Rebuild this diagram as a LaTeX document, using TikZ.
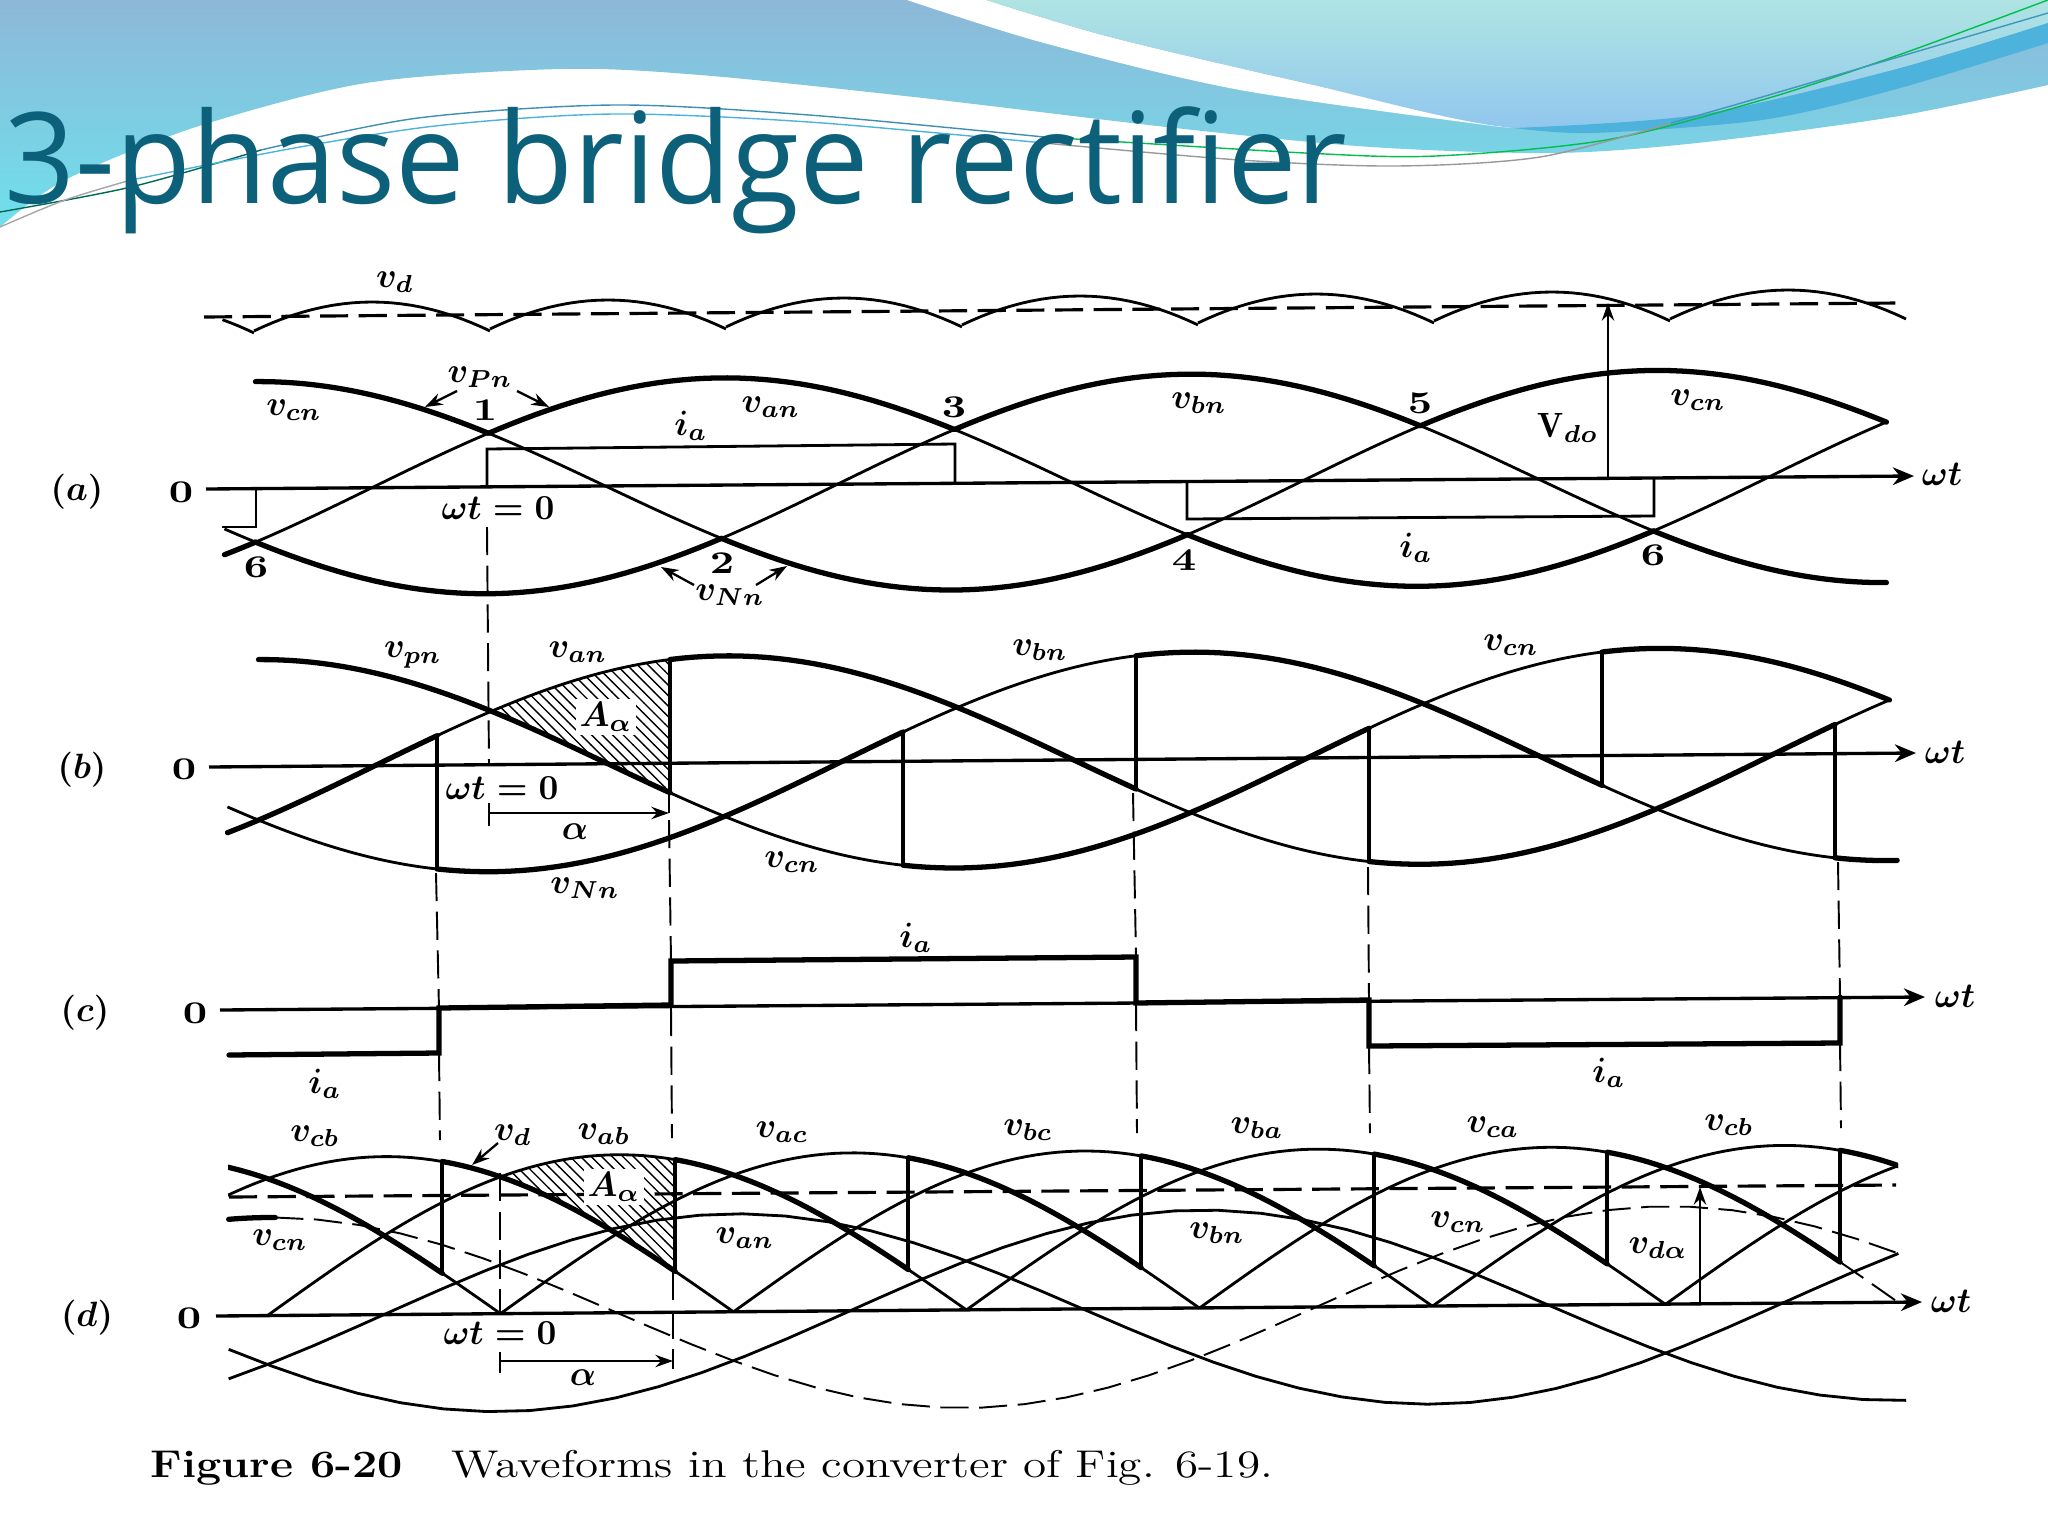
\documentclass[tikz,border=0pt]{standalone}
\usepackage{amsmath}
\usepackage{fontspec}
\usetikzlibrary{patterns,arrows.meta}
\newfontfamily\titlefont{Open Sans}
\definecolor{skytop}{HTML}{8DB8D8}
\definecolor{skylow}{HTML}{6FE0EC}
\definecolor{palet}{HTML}{AFE4E3}
\definecolor{palel}{HTML}{90C6EE}
\definecolor{swoosh}{HTML}{4DB3DC}
\definecolor{titleink}{HTML}{0C607A}
\tikzset{
  lab/.style={font=\fontsize{10}{11}\selectfont\boldmath,xscale=.98,inner sep=0pt},
  numlab/.style={font=\fontsize{9}{10}\selectfont\bfseries,xscale=1.3,inner sep=0pt},
  hvy/.style={line width=1.5pt,line cap=round},
  thn/.style={line width=.8pt},
  jmp/.style={line width=1.2pt},
  axis/.style={line width=.95pt,->,>={Stealth[length=6pt,width=5pt]}},
  guide/.style={line width=.55pt,dash pattern=on 8pt off 3pt},
  avg/.style={line width=.9pt,dash pattern=on 8pt off 3pt},
  pointer/.style={line width=.65pt,->,>={Stealth[length=5pt,width=3.5pt]}},
  hatch/.style={pattern=north west lines}
}
% one phase between two angles, one jump at a firing angle, one line-line arch
\newcommand{\wavepart}[4]{\draw[#1,domain=#3:#4,samples=40] plot ({wx(\x)},{wy(\x,#2)});}
\newcommand{\jump}[3]{\draw[jmp] ({wx(#1)},{wy(#1,#2)}) -- ({wx(#1)},{wy(#1,#3)});}
\newcommand{\archpart}[4]{\draw[#1,domain=#3:#4,samples=40] plot ({wx(\x)},{wl(\x,#2)});}
\begin{document}
\begin{tikzpicture}[x=0.01cm,y=-0.01cm,
    declare function={wx(\t)=\xz+3.883*\t;
      wy(\t,\p)=\yz-.008*(wx(\t)-206)-\amp*sin(\t+(\p));
      wl(\t,\z)=\yz-.008*(wx(\t)-206)-158*sin(\t-(\z));}]
  \useasboundingbox (0,0) rectangle (2048,1536);

  % slide header
  \shade[top color=skytop,bottom color=skylow] (0,0) -- (2048,0) -- plot[smooth] coordinates {(2048,85) (1893,117) (1697,143) (1554,153) (1371,147) (1175,128) (914,97) (700,75) (561,69) (366,83) (196,127) (65,180) (0,227)} -- cycle;
  \fill[white] plot[smooth] coordinates {(907,0) (1044,43) (1240,90) (1501,127)} -- plot[smooth] coordinates {(1514,128) (1305,83) (1110,37) (986,0)} -- cycle;
  \shade[top color=palet,bottom color=palel] (986,0) -- (2048,0) -- plot[smooth] coordinates {(2048,23) (1893,70) (1697,115) (1514,128) (1305,83) (1110,37) (986,0)} -- cycle;
  \fill[swoosh] plot[smooth] coordinates {(1514,128) (1697,115) (1893,70) (2048,23)} -- plot[smooth] coordinates {(2048,43) (1893,90) (1762,120) (1593,133) (1514,128)} -- cycle;
  \draw[thin,color=green!55!blue!75!black] plot[smooth] coordinates {(0,212) (131,187) (261,150)};
  \draw[thin,color=swoosh!80!black] plot[smooth] coordinates {(261,150) (418,118) (614,105) (809,115) (1044,137)};
  \draw[thin,color=green!60!cyan!75!black] plot[smooth] coordinates {(1044,137) (1305,153) (1436,156) (1606,140) (1762,100) (1893,57) (2048,0)};
  \draw[thin,color=gray!70] plot[smooth] coordinates {(0,227) (65,200) (131,180)};
  \draw[thin,color=swoosh] plot[smooth] coordinates {(131,180) (300,147) (444,125) (614,114) (809,122) (1044,143)};
  \draw[thin,color=gray!80] plot[smooth] coordinates {(1044,143) (1240,160) (1397,166) (1540,157) (1671,123)};
  \draw[thin,color=swoosh!85!black] plot[smooth] coordinates {(1671,123) (1762,97) (2048,13)};
  \node[anchor=base west,inner sep=0pt,xscale=.98,text=titleink,font=\titlefont\fontsize{36}{40}\selectfont] (title) at (4,203) {3-phase bridge rectifier};

  % ripple of v_d
  \foreach \k in {0,...,6}{
    \draw[thn,domain=-30:30,samples=25] plot ({372+236*\k+3.933*\x},{302-2*\k+216*(1-cos(\x))});
  }
  \draw[thn,domain=22:30,samples=5] plot ({136+3.933*\x},{304+216*(1-cos(\x))});
  \draw[avg] (204,317) -- (1899,303);
  \node[lab] (vdtop) at (395,282) {$v_d$};

  % (a)
  \def\xz{372}\def\yz{489}\def\amp{107}
  \foreach \ph/\from/\to/\pen in {0/-38/-30/hvy,0/-30/30/thn,0/30/150/hvy,0/150/210/thn,0/210/330/hvy,0/330/390/thn,
      -120/-38/-30/thn,-120/-30/90/hvy,-120/90/150/thn,-120/150/270/hvy,-120/270/330/thn,-120/330/390/hvy,
      120/-30/30/hvy,120/30/90/thn,120/90/210/hvy,120/210/270/thn,120/270/390/hvy}{
    \wavepart{\pen}{\ph}{\from}{\to}
  }
  \draw[axis] (206,489) -- (1914,476);
  \draw[thn] (222,527) -- (256,527) -- (256,489);
  \draw[thn] (487,487) -- (487,449) -- (955,444) -- (955,482);
  \draw[thn] (1187,482) -- (1187,519) -- (1654,516) -- (1654,478);
  \draw[guide] (487,527) -- (489,765);
  \coordinate (vdobase) at (1608,477);
  \coordinate (vdotop) at (1608,303);
  \draw[pointer] (vdobase) -- (vdotop);
  \coordinate (pnl) at (425,407);
  \coordinate (pnr) at (549,407);
  \coordinate (nnl) at (661,567);
  \coordinate (nnr) at (787,566);
  \node[lab] (vPn) at (480,377) {$v_{Pn}$};
  \node[lab] (vNn) at (730,595) {$v_{Nn}$};
  \draw[pointer] (457,391) -- (pnl);
  \draw[pointer] (517,391) -- (pnr);
  \draw[pointer] (694,585) -- (nnl);
  \draw[pointer] (756,585) -- (nnr);
  \node[lab] (alab) at (77,492) {$(a)$};
  \node[numlab] (azero) at (181,492) {0};
  \node[lab] (avcnl) at (294,410) {$v_{cn}$};
  \node[numlab] (cross1) at (485,410) {1};
  \node[lab] (aia) at (691,426) {$i_a$};
  \node[lab] (avan) at (771,407) {$v_{an}$};
  \node[numlab] (cross3) at (954,407) {3};
  \node[lab] (awt) at (498,508) {$\omega t=0$};
  \node[numlab] (cross6l) at (256,567) {6};
  \node[numlab] (cross2) at (722,563) {2};
  \node[lab] (avbn) at (1199,403) {$v_{bn}$};
  \node[numlab] (cross5) at (1420,403) {5};
  \node[lab] (vdo) at (1568,428) {$\mathrm{V}_{do}$};
  \node[lab] (avcnr) at (1698,400) {$v_{cn}$};
  \node[lab] (aomega) at (1942,474) {$\omega t$};
  \node[lab] (aian) at (1416,548) {$i_a$};
  \node[numlab] (cross4) at (1184,560) {4};
  \node[numlab] (cross6r) at (1653,555) {6};

  % (b)
  \def\xz{375}\def\yz{767}\def\amp{107}
  \fill[hatch] plot[domain=30:76,samples=30] ({wx(\x)},{wy(\x,0)}) -- plot[domain=76:30,samples=30] ({wx(\x)},{wy(\x,120)}) -- cycle;
  \foreach \ph/\from/\to/\pen in {0/-38/16/hvy,0/16/76/thn,0/76/196/hvy,0/196/256/thn,0/256/376/hvy,0/376/390/thn,
      -120/-38/16/thn,-120/16/136/hvy,-120/136/196/thn,-120/196/316/hvy,-120/316/376/thn,-120/376/392/hvy,
      120/-30/76/hvy,120/76/136/thn,120/136/256/hvy,120/256/316/thn,120/316/390/hvy}{
    \wavepart{\pen}{\ph}{\from}{\to}
  }
  \jump{16}{0}{-120}
  \jump{76}{120}{0}
  \jump{136}{-120}{120}
  \jump{196}{0}{-120}
  \jump{256}{120}{0}
  \jump{316}{-120}{120}
  \jump{376}{0}{-120}
  \draw[axis] (209,767) -- (1916,753);
  \draw[thn] (489,803) -- (489,826);
  \draw[thn] (669,795) -- (669,813);
  \coordinate (balpha) at (669,813);
  \draw[pointer] (489,813) -- (balpha);
  \foreach \xa/\ya/\xb/\yb in {436/873/439/1010,669/820/671/961,1133/793/1136/957,1368/867/1369/1000,1838/862/1840/997,
      439/1053/440/1140,671/1008/672/1138,1136/1003/1137/1133,1369/1046/1370/1133,1840/1043/1841/1128}{
    \draw[guide] (\xa,\ya) -- (\xb,\yb);
  }
  \node[lab,fill=white,inner sep=1pt] (bAa) at (606,717) {$A_\alpha$};
  \node[lab] (blab) at (82,770) {$(b)$};
  \node[numlab] (bzero) at (184,769) {0};
  \node[lab] (bvpn) at (413,655) {$v_{pn}$};
  \node[lab] (bvan) at (578,652) {$v_{an}$};
  \node[lab] (bwt) at (502,788) {$\omega t=0$};
  \node[lab] (balab) at (575,832) {$\alpha$};
  \node[lab] (bvNn) at (585,888) {$v_{Nn}$};
  \node[lab] (bvcnl) at (792,862) {$v_{cn}$};
  \node[lab] (bvbn) at (1040,650) {$v_{bn}$};
  \node[lab] (bvcnr) at (1511,645) {$v_{cn}$};
  \node[lab] (bomega) at (1945,752) {$\omega t$};

  % (c)
  \draw[axis] (220,1010) -- (1925,997);
  \draw[hvy,line join=miter] (229,1055) -- (439,1053) -- (439,1008) -- (671,1005) -- (671,961) -- (1136,957) -- (1136,1003) -- (1369,1000) -- (1369,1046) -- (1840,1043) -- (1840,997);
  \node[lab] (clab) at (85,1013) {$(c)$};
  \node[numlab] (czero) at (195,1013) {0};
  \node[lab] (cia) at (916,938) {$i_a$};
  \node[lab] (cial) at (325,1084) {$i_a$};
  \node[lab] (ciar) at (1609,1073) {$i_a$};
  \node[lab] (comega) at (1955,996) {$\omega t$};

  % (d)
  \def\xz{384}\def\yz{1316}\def\amp{98}
  \fill[hatch] plot[domain=30:75,samples=30] ({wx(\x)},{wl(\x,-30)}) -- plot[domain=75:30,samples=30] ({wx(\x)},{wl(\x,-90)}) -- cycle;
  \begin{scope}
    \clip (228,1100) rectangle (1898,1340);
    \foreach \z/\tailpen in {-150/thn,-90/thn,-30/thn,30/thn,90/thn,150/thn,210/guide,270/thn,330/thn}{
      \archpart{thn}{\z}{\z}{\z+105}
      \archpart{hvy}{\z}{\z+105}{\z+165}
      \archpart{\tailpen}{\z}{\z+165}{\z+180}
    }
  \end{scope}
  \foreach \f/\z in {15/-90,75/-30,135/30,195/90,255/150,315/210,375/270}{
    \draw[jmp] ({wx(\f)},{wl(\f,\z)}) -- ({wx(\f)},{wl(\f,\z-60)});
  }
  \wavepart{thn}{0}{-40}{390}
  \wavepart{thn}{-120}{-40}{392}
  \wavepart{guide}{120}{-28}{390}
  \wavepart{hvy}{120}{-40}{-28}
  \draw[axis] (216,1316) -- (1922,1302);
  \draw[avg] (229,1197) -- (1896,1185);
  \draw[guide] (500,1173) -- (500,1313);
  \draw[thn] (500,1352) -- (500,1373);
  \draw[guide] (673,1272) -- (673,1369);
  \coordinate (dalpha) at (673,1361);
  \draw[pointer] (500,1361) -- (dalpha);
  \coordinate (vdtip) at (472,1165);
  \draw[pointer] (498,1143) -- (vdtip);
  \coordinate (vdabase) at (1700,1303);
  \coordinate (vdatop) at (1700,1187);
  \draw[pointer] (vdabase) -- (vdatop);
  \node[lab,fill=white,inner sep=1pt] (dAa) at (614,1187) {$A_\alpha$};
  \node[lab] (dlab) at (87,1318) {$(d)$};
  \node[numlab] (dzero) at (189,1318) {0};
  \node[lab] (dvcbl) at (315,1136) {$v_{cb}$};
  \node[lab] (dvd) at (513,1135) {$v_d$};
  \node[lab] (dvab) at (604,1134) {$v_{ab}$};
  \node[lab] (dvac) at (782,1132) {$v_{ac}$};
  \node[lab] (dvbc) at (1028,1130) {$v_{bc}$};
  \node[lab] (dvba) at (1257,1128) {$v_{ba}$};
  \node[lab] (dvca) at (1493,1127) {$v_{ca}$};
  \node[lab] (dvcbr) at (1729,1125) {$v_{cb}$};
  \node[lab] (dvcnl) at (280,1240) {$v_{cn}$};
  \node[lab] (dvan) at (745,1238) {$v_{an}$};
  \node[lab] (dvbn) at (1217,1233) {$v_{bn}$};
  \node[lab] (dvcnr) at (1458,1222) {$v_{cn}$};
  \node[lab] (dvda) at (1658,1248) {$v_{d\alpha}$};
  \node[lab] (dwt) at (500,1333) {$\omega t=0$};
  \node[lab] (dalab) at (583,1378) {$\alpha$};
  \node[lab] (domega) at (1951,1301) {$\omega t$};

  \node[anchor=base west,inner sep=0pt,xscale=1.16,font=\fontsize{11}{13}\selectfont\bfseries] (captag) at (150,1477) {Figure 6-20};
  \node[anchor=base west,inner sep=0pt,xscale=1.22,font=\fontsize{11}{13}\selectfont] (caption) at (451,1477) {Waveforms in the converter of Fig. 6-19.};
\end{tikzpicture}
\end{document}
